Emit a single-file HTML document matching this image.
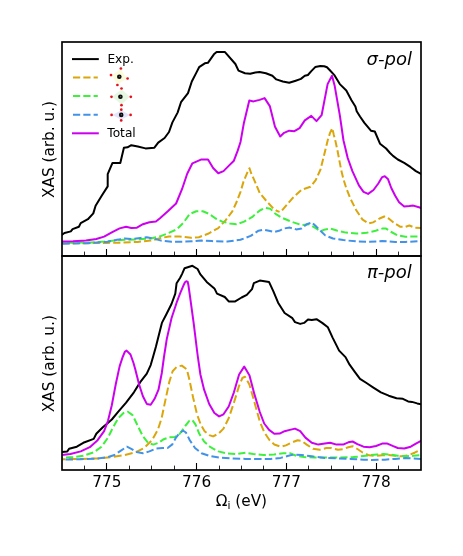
<!DOCTYPE html>
<html lang="en">
<head>
<meta charset="utf-8">
<title>XAS spectra</title>
<style>
html,body{margin:0;padding:0;background:#ffffff;}
body{width:463px;height:556px;overflow:hidden;}
svg{display:block;}
text{font-family:"DejaVu Sans","Liberation Sans",sans-serif;fill:#000;}
.tick{font-size:15.3px;}
.lab{font-size:15.3px;}
.leg{font-size:12.2px;}
.pol{font-size:18px;font-style:italic;}
</style>
</head>
<body>
<svg width="463" height="556" viewBox="0 0 463 556">
<rect x="0" y="0" width="463" height="556" fill="#ffffff"/>
<defs>
<clipPath id="ct"><rect x="62.0" y="42.0" width="359.0" height="214.0"/></clipPath>
<clipPath id="cb"><rect x="62.0" y="256.0" width="359.0" height="214.0"/></clipPath>
</defs>

<g id="top-curves">
<polyline points="62.0,234.8 64.5,233.0 70.8,231.4 72.6,229.1 78.9,226.7 80.7,223.1 87.9,219.2 93.3,213.4 95.6,205.7 101.7,195.8 107.7,186.4 107.7,174.2 112.5,162.9 120.3,162.9 123.9,147.8 127.5,147.3 131.3,145.2 137.8,146.5 145.5,148.4 154.4,147.7 158.2,142.6 164.6,138.0 169.0,132.0 172.4,122.4 177.6,112.6 181.0,102.2 188.0,93.1 191.8,81.5 196.5,72.4 199.1,67.2 204.8,63.3 207.9,62.8 213.9,54.3 216.6,52.0 225.0,52.1 235.4,64.0 238.5,70.6 245.0,73.2 250.2,73.7 255.3,72.5 259.6,72.0 265.9,73.2 272.4,75.8 276.3,79.4 282.8,81.5 289.2,82.8 295.7,80.7 300.9,78.9 304.8,75.8 307.9,75.0 311.3,71.1 315.2,67.1 320.4,66.1 324.2,66.2 327.0,67.2 329.4,69.8 334.6,75.4 339.8,84.1 346.3,90.5 351.5,100.2 355.4,106.5 356.7,111.3 360.0,116.5 364.4,122.9 370.9,130.7 374.8,131.5 380.0,143.7 386.1,148.5 390.0,153.0 393.0,155.9 397.8,159.5 404.2,162.8 410.7,167.2 415.9,171.1 421.0,173.9" fill="none" stroke="#000000" stroke-width="2.0" stroke-linejoin="round" stroke-linecap="square" clip-path="url(#ct)"/>
<polyline points="62.0,243.2 85.9,243.2 106.7,242.9 122.2,242.6 137.8,241.9 150.7,240.6 160.0,238.2 169.1,236.4 179.4,236.5 191.1,237.7 198.9,237.2 208.0,233.8 218.3,228.1 225.7,220.2 232.3,211.4 236.6,202.0 240.6,191.6 243.5,181.6 247.8,171.5 249.5,168.2 252.1,176.0 253.5,178.3 259.8,193.1 266.3,200.9 272.8,207.9 277.0,211.0 279.6,211.9" fill="none" stroke="#dba60c" stroke-width="2.0" stroke-linejoin="round" stroke-linecap="butt" stroke-dasharray="7.2 3.1" stroke-dashoffset="0.30" clip-path="url(#ct)"/>
<polyline points="279.6,211.9 282.0,210.5 284.6,207.4 292.4,198.3 301.5,189.8 310.5,186.7 315.7,180.2 320.5,169.5 324.3,154.3 327.8,140.0 330.0,133.0 332.3,128.2 333.7,134.4 335.2,140.1 337.3,149.5 339.2,159.6 341.1,169.6 343.4,179.0 346.3,188.3 350.3,198.4 356.1,210.0 362.6,219.7 368.5,223.5 373.1,222.4 379.6,218.5 384.3,216.5 388.7,218.5 393.9,222.9 400.4,226.8 405.5,226.8 409.4,225.5 414.6,227.6 421.0,228.1" fill="none" stroke="#dba60c" stroke-width="2.0" stroke-linejoin="round" stroke-linecap="butt" stroke-dasharray="7.2 3.1" stroke-dashoffset="7.41" clip-path="url(#ct)"/>
<polyline points="62.0,242.9 75.6,242.6 91.1,242.4 104.1,241.6 114.4,240.6 124.8,239.8 137.8,239.3 150.7,238.5 160.0,236.4 167.8,233.3 176.8,229.4 183.3,222.9 189.8,213.9 196.3,211.3 202.8,211.3 209.2,213.9 215.7,218.5 222.2,221.6 230.0,223.5 236.5,224.2 244.2,221.6 252.0,217.2 259.8,210.5 265.0,207.9 270.3,208.7 275.5,213.9 282.0,217.8 291.1,221.6 301.5,225.0 309.2,224.2 315.7,228.1 320.5,231.2 325.2,229.4 330.4,228.6 336.8,230.5 345.9,232.6 356.3,233.6 366.7,232.8 375.7,230.7 382.2,228.6 386.1,228.6 391.3,232.0 397.8,235.4 405.5,236.7 413.3,236.4 421.0,236.7" fill="none" stroke="#3df03d" stroke-width="2.0" stroke-linejoin="round" stroke-linecap="butt" stroke-dasharray="7.2 3.1" stroke-dashoffset="5.50" clip-path="url(#ct)"/>
<polyline points="62.0,243.7 85.9,243.2 106.7,241.9 117.0,239.8 124.8,238.5 132.6,239.0 140.4,238.0 146.8,237.2 153.3,238.5 161.1,240.6 171.5,241.7 185.9,241.6 201.5,240.6 211.8,241.1 227.4,241.6 240.4,239.8 250.7,235.9 258.5,230.7 263.7,229.6 268.9,230.7 274.0,232.0 280.0,230.5 283.3,228.6 289.8,227.6 296.3,229.4 301.5,228.6 306.7,224.2 311.8,222.4 315.7,226.1 320.7,231.0 325.2,235.4 333.0,238.5 343.3,240.1 356.3,241.4 369.2,241.8 382.2,241.1 395.2,241.9 405.5,241.9 421.0,241.1" fill="none" stroke="#4292e8" stroke-width="2.0" stroke-linejoin="round" stroke-linecap="butt" stroke-dasharray="7.2 3.1" stroke-dashoffset="9.60" clip-path="url(#ct)"/>
<polyline points="62.0,241.6 73.0,241.2 85.9,240.4 96.3,239.0 104.1,236.6 111.8,232.3 119.6,228.4 126.1,226.8 131.3,227.9 136.5,227.8 142.9,224.2 149.4,222.2 155.9,221.6 160.0,218.2 167.8,211.3 176.1,203.5 182.0,189.2 187.2,173.7 192.4,163.3 201.5,159.4 208.0,159.4 213.1,168.0 218.3,173.2 223.5,171.1 228.7,165.9 233.9,160.7 237.8,150.4 240.5,142.0 243.9,122.9 249.3,100.6 253.5,101.4 259.6,99.9 264.6,98.1 269.8,106.1 275.0,126.8 280.2,136.4 284.1,132.8 289.2,130.7 294.4,131.2 299.6,128.1 304.8,120.4 311.3,115.9 316.5,121.1 321.6,115.2 327.6,84.1 332.0,75.8 334.6,85.4 339.8,115.2 343.5,140.5 347.7,158.0 352.4,171.1 358.9,185.4 363.5,191.8 368.1,193.9 373.5,190.0 378.3,183.5 382.2,177.1 384.8,176.3 387.9,178.9 391.3,188.0 395.2,195.7 399.1,202.2 404.2,206.6 409.4,206.1 413.3,205.6 421.0,207.9" fill="none" stroke="#cc00ee" stroke-width="2.0" stroke-linejoin="round" stroke-linecap="square" clip-path="url(#ct)"/>
</g>
<g id="bottom-curves">
<polyline points="62.0,451.9 67.3,451.4 69.1,448.8 76.8,446.7 83.3,442.8 93.7,438.9 96.3,433.8 102.8,427.3 106.7,423.9 111.8,419.5 118.3,411.7 126.1,402.7 133.9,392.3 140.4,381.9 146.8,373.6 150.7,365.1 153.3,356.0 155.9,346.7 159.8,331.2 161.9,322.9 166.5,314.0 171.5,304.0 175.3,293.6 176.6,283.2 180.0,278.0 182.0,274.1 184.6,268.2 192.4,265.8 197.6,269.0 200.2,274.1 206.7,281.9 214.4,288.4 217.0,293.6 224.8,297.0 228.7,301.4 235.2,301.4 241.6,297.5 246.8,294.9 252.0,289.2 253.8,283.2 259.8,280.6 269.0,281.9 273.5,291.6 278.1,302.7 284.6,313.0 292.4,318.2 295.0,322.1 300.2,323.9 304.1,322.9 308.0,319.5 311.8,320.0 316.5,319.2 322.2,322.9 327.9,327.3 332.6,337.6 336.5,345.4 339.1,350.6 345.5,357.1 349.6,364.7 354.8,371.8 360.0,378.8 366.5,383.0 373.0,387.3 380.9,392.3 388.7,395.7 396.5,398.2 402.9,398.8 408.1,401.4 412.0,401.9 417.2,403.4 421.0,404.2" fill="none" stroke="#000000" stroke-width="2.0" stroke-linejoin="round" stroke-linecap="square" clip-path="url(#cb)"/>
<polyline points="62.0,459.2 80.7,458.9 98.9,458.4 111.8,457.1 124.8,455.0 135.2,452.4 144.2,448.0 152.0,440.2 157.8,429.9 161.6,418.2 165.4,400.1 169.3,381.9 172.6,371.3 176.8,366.8 181.8,365.6 186.8,369.3 189.3,379.3 193.1,397.5 197.0,414.3 200.8,424.7 204.6,431.2 209.2,435.1 213.1,436.4 218.3,433.8 223.5,428.6 228.7,418.2 233.9,402.7 239.1,385.8 242.4,378.0 245.0,376.7 249.4,384.5 254.6,402.7 259.8,421.5 264.4,432.5 269.6,440.2 274.3,444.5 280.7,446.7 285.9,445.4 292.4,442.3 297.6,440.2 301.5,440.8 306.7,444.6 313.1,448.8 319.8,449.8 326.3,448.0 331.5,448.0 338.0,449.8 343.1,449.3 348.3,447.2 352.6,446.2 357.4,449.0 362.6,452.5 369.0,455.3 375.5,455.9 382.2,455.3 388.7,455.0 395.2,455.8 401.6,456.3 408.1,455.3 414.6,452.7 421.0,449.3" fill="none" stroke="#dba60c" stroke-width="2.0" stroke-linejoin="round" stroke-linecap="butt" stroke-dasharray="7.9 3.4" stroke-dashoffset="4.60" clip-path="url(#cb)"/>
<polyline points="62.0,457.6 73.0,457.1 83.3,455.8 93.7,452.4 101.5,446.7 108.0,437.6 113.1,427.3 118.3,418.2 123.5,413.0 127.9,411.7 132.6,415.1 137.8,426.0 142.9,436.3 148.1,442.8 153.3,444.6 158.5,442.8 163.8,439.2 169.0,437.3 174.8,437.1 179.6,434.0 185.2,426.0 189.3,420.9 192.3,420.1 195.6,424.7 199.3,433.8 204.1,441.5 210.5,447.2 218.3,451.4 227.4,453.5 236.5,454.0 245.5,452.7 253.3,454.0 263.7,455.0 274.0,454.5 283.3,453.2 289.8,453.2 296.3,455.8 304.1,457.1 314.4,457.6 327.4,457.6 340.4,457.6 353.3,457.1 358.9,456.6 369.2,455.3 377.0,454.5 383.5,454.0 390.0,454.5 397.8,455.8 405.5,456.3 413.3,455.8 421.0,455.0" fill="none" stroke="#3df03d" stroke-width="2.0" stroke-linejoin="round" stroke-linecap="butt" stroke-dasharray="7.2 3.1" stroke-dashoffset="6.30" clip-path="url(#cb)"/>
<polyline points="62.0,459.7 80.7,459.2 96.3,458.6 108.0,457.1 114.4,455.0 120.9,450.6 126.9,446.7 131.3,448.8 136.5,451.9 142.9,453.2 149.4,451.4 155.9,448.5 162.4,448.0 167.6,448.0 172.3,444.4 176.0,437.6 179.6,432.8 183.3,430.7 185.9,432.5 189.8,440.2 195.0,448.0 201.5,453.2 209.2,455.8 219.6,457.6 232.6,458.6 245.5,458.9 263.7,458.9 270.4,458.9 280.7,457.9 288.5,455.8 293.7,454.5 301.5,455.0 311.8,456.3 324.8,457.9 337.8,458.4 350.7,458.9 363.7,459.7 371.8,459.9 384.8,459.7 395.2,458.9 405.5,457.9 413.3,458.4 421.0,458.9" fill="none" stroke="#4292e8" stroke-width="2.0" stroke-linejoin="round" stroke-linecap="butt" stroke-dasharray="7.5 3.2" stroke-dashoffset="7.20" clip-path="url(#cb)"/>
<polyline points="62.0,455.0 70.4,454.0 80.7,451.4 89.8,447.2 97.6,440.2 104.1,431.2 108.0,420.8 111.8,405.2 115.7,384.5 119.6,366.4 122.5,357.5 124.8,351.9 126.6,350.6 130.5,354.5 133.5,363.0 135.2,369.0 139.1,384.5 142.9,396.2 146.8,403.9 150.7,404.7 154.6,398.8 158.5,389.7 161.8,373.0 163.9,357.5 166.8,338.9 171.5,318.2 176.6,302.7 180.0,293.6 183.3,285.8 185.0,282.3 186.3,281.3 187.6,281.6 188.4,285.0 189.8,294.9 193.7,323.4 197.6,355.0 200.4,374.5 204.1,389.7 209.2,404.0 214.4,413.0 219.1,416.4 223.5,414.3 228.7,406.5 233.9,392.3 239.1,374.5 244.2,366.6 249.5,375.5 254.6,394.9 259.8,412.0 264.2,423.5 269.1,429.9 274.3,433.8 279.6,433.6 284.6,431.2 289.8,429.9 295.0,428.6 300.2,431.2 305.4,437.6 311.8,442.8 318.3,444.6 324.8,443.6 330.2,442.8 336.6,444.6 343.1,444.6 348.3,442.3 352.6,441.5 357.4,444.1 363.5,446.7 369.7,447.2 376.0,446.0 382.2,443.6 387.4,443.6 392.6,445.9 397.8,448.0 404.2,448.5 410.7,446.7 415.9,443.6 421.0,440.8" fill="none" stroke="#cc00ee" stroke-width="2.0" stroke-linejoin="round" stroke-linecap="square" clip-path="url(#cb)"/>
</g>
<g id="ticks" stroke="#000" fill="none">
<line x1="84.50" y1="256.0" x2="84.50" y2="251.6" stroke-width="0.85"/>
<line x1="106.50" y1="256.0" x2="106.50" y2="249.0" stroke-width="1.1"/>
<line x1="129.50" y1="256.0" x2="129.50" y2="251.6" stroke-width="0.85"/>
<line x1="151.50" y1="256.0" x2="151.50" y2="251.6" stroke-width="0.85"/>
<line x1="174.50" y1="256.0" x2="174.50" y2="251.6" stroke-width="0.85"/>
<line x1="196.50" y1="256.0" x2="196.50" y2="249.0" stroke-width="1.1"/>
<line x1="219.50" y1="256.0" x2="219.50" y2="251.6" stroke-width="0.85"/>
<line x1="241.50" y1="256.0" x2="241.50" y2="251.6" stroke-width="0.85"/>
<line x1="263.50" y1="256.0" x2="263.50" y2="251.6" stroke-width="0.85"/>
<line x1="286.50" y1="256.0" x2="286.50" y2="249.0" stroke-width="1.1"/>
<line x1="308.50" y1="256.0" x2="308.50" y2="251.6" stroke-width="0.85"/>
<line x1="331.50" y1="256.0" x2="331.50" y2="251.6" stroke-width="0.85"/>
<line x1="353.50" y1="256.0" x2="353.50" y2="251.6" stroke-width="0.85"/>
<line x1="376.50" y1="256.0" x2="376.50" y2="249.0" stroke-width="1.1"/>
<line x1="398.50" y1="256.0" x2="398.50" y2="251.6" stroke-width="0.85"/>
<line x1="84.50" y1="470.0" x2="84.50" y2="465.6" stroke-width="0.85"/>
<line x1="106.50" y1="470.0" x2="106.50" y2="463.0" stroke-width="1.1"/>
<line x1="129.50" y1="470.0" x2="129.50" y2="465.6" stroke-width="0.85"/>
<line x1="151.50" y1="470.0" x2="151.50" y2="465.6" stroke-width="0.85"/>
<line x1="174.50" y1="470.0" x2="174.50" y2="465.6" stroke-width="0.85"/>
<line x1="196.50" y1="470.0" x2="196.50" y2="463.0" stroke-width="1.1"/>
<line x1="219.50" y1="470.0" x2="219.50" y2="465.6" stroke-width="0.85"/>
<line x1="241.50" y1="470.0" x2="241.50" y2="465.6" stroke-width="0.85"/>
<line x1="263.50" y1="470.0" x2="263.50" y2="465.6" stroke-width="0.85"/>
<line x1="286.50" y1="470.0" x2="286.50" y2="463.0" stroke-width="1.1"/>
<line x1="308.50" y1="470.0" x2="308.50" y2="465.6" stroke-width="0.85"/>
<line x1="331.50" y1="470.0" x2="331.50" y2="465.6" stroke-width="0.85"/>
<line x1="353.50" y1="470.0" x2="353.50" y2="465.6" stroke-width="0.85"/>
<line x1="376.50" y1="470.0" x2="376.50" y2="463.0" stroke-width="1.1"/>
<line x1="398.50" y1="470.0" x2="398.50" y2="465.6" stroke-width="0.85"/>
</g>
<rect x="62.0" y="42.0" width="359.0" height="214.0" fill="none" stroke="#000" stroke-width="1.67"/>
<rect x="62.0" y="256.0" width="359.0" height="214.0" fill="none" stroke="#000" stroke-width="1.67"/>
<text class="tick" x="106.9" y="486.6" text-anchor="middle">775</text>
<text class="tick" x="196.6" y="486.6" text-anchor="middle">776</text>
<text class="tick" x="286.4" y="486.6" text-anchor="middle">777</text>
<text class="tick" x="376.1" y="486.6" text-anchor="middle">778</text>
<text class="lab" x="241.4" y="506.1" text-anchor="middle">Ω<tspan font-size="10.7px" dy="2.4">i</tspan><tspan dy="-2.4"> (eV)</tspan></text>
<text class="lab" transform="translate(53.5,149.5) rotate(-90)" text-anchor="middle">XAS (arb. u.)</text>
<text class="lab" transform="translate(53.5,363.7) rotate(-90)" text-anchor="middle">XAS (arb. u.)</text>
<text class="pol" x="411.9" y="64.5" text-anchor="end">σ-pol</text>
<text class="pol" x="411.8" y="278.1" text-anchor="end">π-pol</text>
<g id="legend">
<line x1="73.0" y1="59.1" x2="97.8" y2="59.1" stroke="#000" stroke-width="2.0" stroke-linecap="square"/>
<line x1="73.0" y1="77.6" x2="97.8" y2="77.6" stroke="#dba60c" stroke-width="2.0" stroke-dasharray="7.2 3.1"/>
<line x1="73.0" y1="96.1" x2="97.8" y2="96.1" stroke="#3df03d" stroke-width="2.0" stroke-dasharray="7.2 3.1"/>
<line x1="73.0" y1="114.7" x2="97.8" y2="114.7" stroke="#4292e8" stroke-width="2.0" stroke-dasharray="7.2 3.1"/>
<line x1="73.0" y1="133.3" x2="97.8" y2="133.3" stroke="#cc00ee" stroke-width="2.0" stroke-linecap="square"/>
<text class="leg" x="107.4" y="62.9">Exp.</text>
<text class="leg" x="107.3" y="137.4">Total</text>
<polygon points="120.8,69.2 111.6,75.2 117.5,84.4 127.0,78.4" fill="#fbfbdc"/>
<circle cx="120.9" cy="68.5" r="1.35" fill="#e8101c"/>
<circle cx="111.0" cy="75.1" r="1.35" fill="#e8101c"/>
<circle cx="127.6" cy="78.5" r="1.35" fill="#e8101c"/>
<circle cx="117.4" cy="85.0" r="1.35" fill="#e8101c"/>
<circle cx="119.3" cy="76.8" r="2.3" fill="#0a0a0a"/>
<circle cx="119.5" cy="76.5" r="0.8" fill="#555"/>
<polygon points="121.5,89.2 112.3,96.8 121.5,104.6 130.0,96.8" fill="#e6f8e2"/>
<circle cx="121.5" cy="88.5" r="1.35" fill="#e8101c"/>
<circle cx="111.5" cy="96.8" r="1.35" fill="#e8101c"/>
<circle cx="130.8" cy="96.8" r="1.35" fill="#e8101c"/>
<circle cx="121.5" cy="105.2" r="1.35" fill="#e8101c"/>
<circle cx="120.4" cy="96.8" r="2.3" fill="#0a0a0a"/>
<circle cx="120.6" cy="96.6" r="0.8" fill="#555"/>
<polygon points="121.3,110.3 112.4,114.9 121.2,119.8 129.9,114.9" fill="#e4e4fa"/>
<circle cx="121.3" cy="109.7" r="1.35" fill="#e8101c"/>
<circle cx="111.6" cy="114.9" r="1.35" fill="#e8101c"/>
<circle cx="130.6" cy="114.9" r="1.35" fill="#e8101c"/>
<circle cx="121.2" cy="120.4" r="1.35" fill="#e8101c"/>
<circle cx="121.2" cy="114.9" r="2.3" fill="#0a0a0a"/>
<circle cx="121.4" cy="114.7" r="0.8" fill="#555"/>
</g>
</svg>
</body>
</html>
